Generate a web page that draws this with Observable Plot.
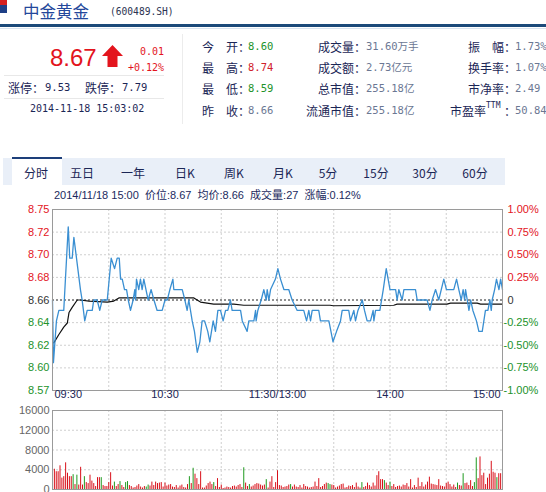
<!DOCTYPE html>
<html><head><meta charset="utf-8">
<script src="https://cdn.jsdelivr.net/npm/d3@7"></script>
<script src="https://cdn.jsdelivr.net/npm/@observablehq/plot@0.6"></script>
<style>
body{margin:0;background:#fff;}
#c{position:relative;width:546px;height:492px;overflow:hidden;background:#fff;}
#c svg{position:absolute;left:0;}
</style></head>
<body><div id="c"></div>
<script>
// ---------- data ----------
const prevClose = 8.66;
const stockName = "中金黄金";
const stockCode = "(600489.SH)";
const lastPrice = "8.67";
const change = "0.01";
const changePct = "+0.12%";
const limitUp = "9.53";
const limitDown = "7.79";
const quoteTime = "2014-11-18 15:03:02";
const col1Labels = ["今　开：", "最　高：", "最　低：", "昨　收："];
const col1Values = ["8.60", "8.74", "8.59", "8.66"];
const col2Labels = ["成交量：", "成交额：", "总市值：", "流通市值："];
const col2Values = ["31.60万手", "2.73亿元", "255.18亿", "255.18亿"];
const col3Labels = ["振　幅：", "换手率：", "市净率：", "市盈率"];
const col3Values = ["1.73%", "1.07%", "2.49", "50.84"];
const tabs = ["分时", "五日", "一年", "日K", "周K", "月K", "5分", "15分", "30分", "60分"];
const infoLine = "2014/11/18 15:00  价位:8.67  均价:8.66  成交量:27  涨幅:0.12%";

// price line vertices (minute of session 0..240, price)
const priceMin = [0,0.5,2.1,3.4,6.0,8.4,9.2,10.5,11.4,13.5,14.9,15.8,17.2,18.5,21.2,22.0,23.8,25.2,26.5,29.2,31.3,33.1,34.5,35.6,36.3,37.2,38.4,39.5,40.4,41.6,43.0,43.9,44.3,44.8,46.0,46.9,47.8,48.7,51.0,52.6,54.1,55.8,58.5,60.0,61.2,62.6,64.2,64.7,69.2,70.6,71.8,72.7,74.5,75.7,77.2,78.6,79.8,81.1,82.8,83.9,85.7,86.9,88.2,89.6,91.0,92.3,93.5,94.9,95.8,100.3,101.2,103.8,104.7,107.4,108.3,108.6,109.5,111.3,112.7,114.0,114.5,115.4,116.3,118.9,120.2,121.6,123.4,126.0,127.8,130.5,134.0,135.5,136.7,137.6,138.5,142.0,142.9,147.4,149.6,151.5,153.6,154.5,158.0,158.9,160.7,161.6,162.9,165.2,166.4,167.8,169.6,171.0,171.4,172.3,174.6,176.4,178.0,180.0,183.0,183.8,184.7,186.5,187.4,193.6,194.5,199.8,201.3,202.5,204.3,206.0,208.7,210.1,214.0,215.5,216.7,218.0,219.0,219.8,220.3,221.2,222.1,223.0,224.2,226.1,227.4,229.2,230.9,232.2,233.3,234.0,234.5,235.8,236.8,238.1,239.0,240];
const priceVal = [8.66,8.60,8.64,8.65,8.65,8.73,8.70,8.70,8.72,8.69,8.67,8.66,8.64,8.65,8.65,8.66,8.66,8.65,8.66,8.66,8.70,8.69,8.70,8.70,8.68,8.68,8.67,8.67,8.66,8.65,8.66,8.67,8.66,8.68,8.67,8.68,8.67,8.68,8.66,8.67,8.66,8.65,8.65,8.66,8.66,8.67,8.68,8.67,8.67,8.66,8.65,8.66,8.64,8.63,8.61,8.62,8.64,8.64,8.63,8.62,8.64,8.63,8.65,8.65,8.64,8.65,8.65,8.66,8.65,8.65,8.64,8.63,8.64,8.64,8.65,8.64,8.65,8.66,8.67,8.66,8.67,8.66,8.67,8.68,8.69,8.68,8.67,8.67,8.66,8.65,8.65,8.64,8.65,8.64,8.65,8.65,8.64,8.64,8.62,8.63,8.64,8.65,8.65,8.64,8.65,8.64,8.65,8.66,8.65,8.64,8.64,8.65,8.64,8.65,8.65,8.67,8.69,8.67,8.67,8.66,8.67,8.66,8.67,8.67,8.66,8.66,8.65,8.66,8.67,8.66,8.68,8.67,8.67,8.68,8.67,8.66,8.67,8.66,8.67,8.66,8.65,8.66,8.65,8.64,8.63,8.63,8.65,8.65,8.66,8.65,8.66,8.67,8.68,8.67,8.68,8.67];
// average price line vertices
const avgMin = [0.7,3.4,6.0,7.9,8.8,10.5,13.2,14.9,19.4,29.2,32.7,35.4,75.4,78.9,86.0,96.7,102,120,148,149.8,182,183.8,210.4,212.3,226.5,228.3,240];
const avgVal = [8.619,8.627,8.634,8.638,8.648,8.653,8.660,8.660,8.659,8.658,8.659,8.662,8.662,8.658,8.656,8.656,8.655,8.655,8.655,8.6545,8.655,8.656,8.656,8.657,8.657,8.656,8.656];

// volume per minute (lots), minute 0..240
const volume = [14400,4100,3600,3600,4800,2300,2600,5400,3300,2600,2600,3000,1000,2900,900,4500,900,2600,1400,1200,
2900,1700,1200,600,2400,2400,2400,800,600,600,1400,3400,700,1500,600,1000,1600,800,400,1400,
1600,800,600,300,400,700,1000,500,300,600,500,900,700,1500,800,1500,1200,1300,1400,500,
1300,700,900,1000,500,400,800,300,700,900,400,300,1000,2600,1200,4300,3100,2200,1000,3600,
300,300,700,1200,1500,1000,1400,600,2200,400,900,200,300,500,400,300,600,700,500,800,
1000,400,4400,1300,600,1000,500,700,1000,1200,1100,900,700,900,2000,300,1500,2600,400,1400,
3800,800,700,400,500,600,900,1000,500,900,500,400,800,300,1000,600,500,300,400,500,
1500,600,2200,400,600,1000,1300,1200,1000,900,800,300,500,700,1000,1100,300,400,700,600,
800,400,1300,500,300,1400,400,600,1300,800,500,1300,700,2800,3600,2000,2000,1800,1300,800,
1500,600,1000,400,600,700,500,900,800,1200,500,2000,300,800,400,2300,600,1400,500,900,
1500,2500,1100,1000,900,800,2000,700,600,500,1200,1500,1000,500,900,400,1300,800,700,3200,
1200,1300,800,1800,600,1400,6400,2200,6600,2800,3300,1000,2300,3100,5700,3500,3300,2400,3200,3200,3400];
// minutes whose volume bar is green (price fell)
const greenBars = [0,11,13,17,26,33,36,39,40,50,51,73,75,86,102,105,114,127,147,148,165,177,180,216,219,225,226,237];

const yTicks = [1,0.75,0.5,0.25,0,-0.25,-0.5,-0.75,-1];
const timeGrid = [30,60,90,120,150,180,210];
const timeLabels = [{m:0,t:"09:30"},{m:60,t:"10:30"},{m:120,t:"11:30/13:00"},{m:180,t:"14:00"},{m:240,t:"15:00"}];
const volTicks = [0,4000,8000,12000,16000];

// ---------- styles ----------
const RED = "#e3141d", GREEN = "#22922a", NAVY = "#1b2656", VAL = "#6b7793";
const CJK = "'Noto Sans CJK SC', sans-serif";
const MONO = "'DejaVu Sans Mono', monospace";
const SANS = "'Liberation Sans', Arial, 'Noto Sans CJK SC', sans-serif";

const root = d3.select("#c");

// ---------- header (HTML/SVG text) ----------
const hdr = root.append("svg").attr("width", 546).attr("height", 200).style("top", "0px");
hdr.append("rect").attr("x",0).attr("y",0).attr("width",7).attr("height",5).attr("fill","#d42020");
hdr.append("rect").attr("x",0).attr("y",5).attr("width",7).attr("height",8).attr("fill","#1e3f86");
function txt(x, y, s, o = {}) {
  return hdr.append("text").attr("x", x).attr("y", y).attr("dominant-baseline", "central")
    .attr("text-anchor", o.anchor || "start")
    .style("font-family", o.font || CJK).style("font-size", (o.size || 12) + "px")
    .style("fill", o.fill || NAVY).style("font-weight", o.weight || "normal")
    .style("white-space", "pre").text(s);
}
txt(23, 10.5, stockName, {size: 16.5, fill: "#24479b"});
txt(110, 11, stockCode, {font: MONO, size: 9.6, fill: "#2c3452"});
hdr.append("rect").attr("x",0).attr("y",24).attr("width",546).attr("height",3).attr("fill","#1c4a7a");
hdr.append("rect").attr("x",0).attr("y",28).attr("width",546).attr("height",1).attr("fill","#d8e4f0");
// quote box lines
hdr.append("rect").attr("x",4).attr("y",75).attr("width",160).attr("height",1).attr("fill","#e8e8e8");
hdr.append("rect").attr("x",4).attr("y",98).attr("width",160).attr("height",1).attr("fill","#e8e8e8");
hdr.append("rect").attr("x",182).attr("y",34).attr("width",1).attr("height",90).attr("fill","#ececec");

txt(50, 57, lastPrice, {font: SANS, size: 24, fill: RED});
hdr.append("path").attr("d", "M102,56 L112.5,45 L123,56 L117.5,56 L117.5,67 L107.5,67 L107.5,56 Z").attr("fill", RED);
txt(140, 51, change, {font: MONO, size: 10, fill: RED});
txt(128, 67, changePct, {font: MONO, size: 10, fill: RED});
txt(8, 87, "涨停：", {size: 12});
txt(45, 87, limitUp, {font: MONO, size: 10.5});
txt(85, 87, "跌停：", {size: 12});
txt(122, 87, limitDown, {font: MONO, size: 10.5});
txt(30, 108, quoteTime, {font: MONO, size: 10});

const rowsY = [46, 67, 88, 110];
const col1Colors = [GREEN, "#d0202a", GREEN, VAL];
rowsY.forEach((y, i) => {
  txt(202, y, col1Labels[i]);
  txt(248, y, col1Values[i], {font: MONO, size: 10.5, fill: col1Colors[i]});
  txt(i === 3 ? 306 : 318, y, col2Labels[i]);
  txt(366, y, col2Values[i], {font: MONO + ", " + CJK, size: 10.5, fill: VAL});
  txt(i === 3 ? 450 : 468, y, col3Labels[i]);
  txt(515, y, col3Values[i], {font: MONO, size: 10.5, fill: VAL});
});
txt(486, 105, "TTM", {font: MONO, size: 8});
txt(504, 110, "：");

// tab bar
hdr.append("rect").attr("x",3).attr("y",158).attr("width",502).attr("height",27).attr("fill","#e9eff8");
hdr.append("rect").attr("x",12).attr("y",158).attr("width",50).attr("height",27).attr("fill","#fff");
hdr.append("rect").attr("x",12).attr("y",157).attr("width",50).attr("height",2).attr("fill","#1d3f7a");
const tabX = [36, 82, 133, 185, 234, 283, 328, 376, 425, 475];
tabs.forEach((t, i) => txt(tabX[i], 172, t, {anchor: "middle", size: 12, fill: "#1b2656"}));
txt(54, 195, infoLine, {font: SANS, size: 11, fill: "#1b2a5e"});

// ---------- price chart ----------
const pct = p => (p / prevClose - 1) * 100;
const priceData = priceMin.map((m, i) => ({m, v: pct(priceVal[i])}));
const avgData = avgMin.map((m, i) => ({m, v: pct(avgVal[i])}));
const tickColor = d => d > 0 ? RED : d < 0 ? GREEN : "#333";
const pctLabel = d => d === 0 ? "0" : d.toFixed(2) + "%";

const pricePlot = Plot.plot({
  width: 546, height: 204, marginLeft: 52, marginRight: 44, marginTop: 9, marginBottom: 14,
  x: {domain: [0, 240], axis: null},
  y: {domain: [-1, 1], axis: null},
  color: {type: "identity"},
  style: {fontFamily: "'Liberation Sans', Arial, sans-serif", fontSize: "11px", background: "transparent", overflow: "visible"},
  marks: [
    Plot.ruleY(yTicks.filter(d => d !== 0 && Math.abs(d) !== 1), {stroke: "#cfcfcf", strokeDasharray: "2,2"}),
    Plot.ruleX(timeGrid, {stroke: "#cfcfcf", strokeDasharray: "2,2"}),
    Plot.ruleY([0], {stroke: "#222", strokeDasharray: "2,2"}),
    Plot.line(avgData, {x: "m", y: "v", stroke: "#111", strokeWidth: 1.2}),
    Plot.line(priceData, {x: "m", y: "v", stroke: "#3a8fd2", strokeWidth: 1.3}),
    Plot.frame({stroke: "#9a9a9a"}),
    Plot.text(yTicks, {y: d => d, frameAnchor: "left", dx: -3, textAnchor: "end",
      text: d => (prevClose * (1 + d / 100)).toFixed(2), fill: tickColor}),
    Plot.text(yTicks.filter(d => d >= 0), {y: d => d, frameAnchor: "right", dx: 5, textAnchor: "start", text: pctLabel, fill: tickColor}),
    Plot.text(yTicks.filter(d => d < 0), {y: d => d, frameAnchor: "right", dx: 1, textAnchor: "start", text: pctLabel, fill: tickColor}),
    Plot.text(timeLabels.filter(d => d.m === 0), {x: "m", text: "t", frameAnchor: "bottom", dy: 7, dx: 2, textAnchor: "start", fill: NAVY}),
    Plot.text(timeLabels.filter(d => d.m > 0 && d.m < 240), {x: "m", text: "t", frameAnchor: "bottom", dy: 7, textAnchor: "middle", fill: NAVY}),
    Plot.text(timeLabels.filter(d => d.m === 240), {x: "m", text: "t", frameAnchor: "bottom", dy: 7, dx: -2, textAnchor: "end", fill: NAVY})
  ]
});
d3.select(pricePlot).style("top", "200px");
root.node().appendChild(pricePlot);

// ---------- volume chart ----------
const greenSet = new Set(greenBars);
const volData = volume.map((v, m) => ({m, v, c: greenSet.has(m) ? "#1f9a1f" : "#d8101a"}));
const volPlot = Plot.plot({
  width: 546, height: 92, marginLeft: 52, marginRight: 44, marginTop: 10, marginBottom: 3,
  x: {domain: [0, 240], axis: null},
  y: {domain: [0, 16000], axis: null},
  color: {type: "identity"},
  style: {fontFamily: "'Liberation Sans', Arial, sans-serif", fontSize: "11px", background: "transparent", overflow: "visible"},
  marks: [
    Plot.ruleY([4000, 8000, 12000], {stroke: "#cfcfcf", strokeDasharray: "2,2"}),
    Plot.ruleX(timeGrid, {stroke: "#cfcfcf", strokeDasharray: "2,2"}),
    Plot.ruleX(volData, {x: "m", y1: 0, y2: "v", stroke: "c", strokeWidth: 1}),
    Plot.frame({stroke: "#9a9a9a"}),
    Plot.text(volTicks, {y: d => d, frameAnchor: "left", dx: -3, textAnchor: "end", text: d => String(d), fill: "#666"})
  ]
});
d3.select(volPlot).style("top", "400px");
root.node().appendChild(volPlot);
</script>
</body></html>
